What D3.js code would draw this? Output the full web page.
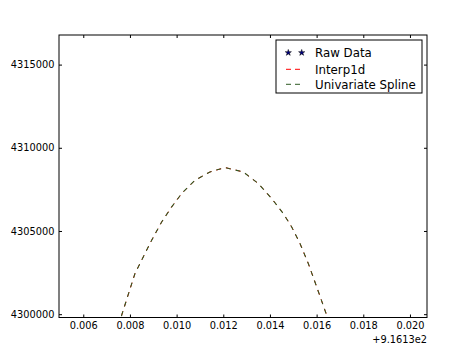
<!DOCTYPE html>
<html>
<head>
<meta charset="utf-8">
<script src="https://cdn.jsdelivr.net/npm/d3@7"></script>
<style>
  body { margin: 0; background: #fff; }
  svg { display: block; }
  text { font-family: "DejaVu Sans", sans-serif; fill: #000; }
</style>
</head>
<body>
<div id="chart"></div>
<script>
// Interpolation comparison, zoomed in on the peak
// x values are offsets from 916.13 (matplotlib offset text +9.1613e2)

const curveX = [0.00755, 0.007646, 0.008216, 0.008571, 0.008931, 0.00936, 0.009788,
  0.010217, 0.010787, 0.01143, 0.012073, 0.012857, 0.0135, 0.014074, 0.014571,
  0.014931, 0.015287, 0.015643, 0.016003, 0.016431, 0.01655];
const interpY = [4299300, 4299940, 4302445, 4303442, 4304445, 4305545, 4306446,
  4307251, 4308050, 4308548, 4308813, 4308548, 4307852, 4306950, 4306049,
  4305245, 4304247, 4303046, 4301640, 4299940, 4299300];
const splineY = [4299300, 4299940, 4302445, 4303442, 4304445, 4305545, 4306446,
  4307251, 4308050, 4308548, 4308813, 4308548, 4307852, 4306950, 4306049,
  4305245, 4304247, 4303046, 4301640, 4299940, 4299300];

const xTicks = [0.006, 0.008, 0.010, 0.012, 0.014, 0.016, 0.018, 0.020];
const yTicks = [4300000, 4305000, 4310000, 4315000];
const seriesNames = ["Raw Data", "Interp1d", "Univariate Spline"];

const width = 474, height = 353;
const axL = 59, axR = 427, axT = 35, axB = 317.5;

const svg = d3.select("#chart").append("svg")
  .attr("width", width)
  .attr("height", height);

const x = d3.scaleLinear().domain([0.00496, 0.02073]).range([axL, axR]);
const y = d3.scaleLinear().domain([4299800, 4316779]).range([axB, axT]);

svg.append("defs").append("clipPath")
  .attr("id", "clip")
  .append("rect")
  .attr("x", axL).attr("y", axT)
  .attr("width", axR - axL).attr("height", axB - axT);

// curves: red interp1d below, green spline on top
const line = d3.line().x(d => x(d[0])).y(d => y(d[1]));
const plotG = svg.append("g").attr("clip-path", "url(#clip)");

plotG.append("path")
  .datum(curveX.map((v, i) => [v, interpY[i]]))
  .attr("d", line)
  .attr("fill", "none")
  .attr("stroke", "#ff0000")
  .attr("stroke-width", 1)
  .attr("stroke-dasharray", "5,5");

plotG.append("path")
  .datum(curveX.map((v, i) => [v, splineY[i]]))
  .attr("d", line)
  .attr("fill", "none")
  .attr("stroke", "#2f5a24")
  .attr("stroke-width", 1.1)
  .attr("stroke-dasharray", "5,5");

// axes: ticks point inward on all four sides (classic style)
const tickLen = 3;
svg.append("g")
  .attr("transform", `translate(0,${axB})`)
  .call(d3.axisBottom(x).tickValues(xTicks).tickSize(-tickLen).tickPadding(5)
    .tickFormat(d3.format(".3f")))
  .call(g => g.select(".domain").remove())
  .call(g => g.selectAll("text").style("font-size", "9.8px").style("font-family", "DejaVu Sans"));

svg.append("g")
  .attr("transform", `translate(0,${axT})`)
  .call(d3.axisTop(x).tickValues(xTicks).tickSize(-tickLen).tickFormat(""))
  .call(g => g.select(".domain").remove());

svg.append("g")
  .attr("transform", `translate(${axL},0)`)
  .call(d3.axisLeft(y).tickValues(yTicks).tickSize(-tickLen).tickPadding(4.5)
    .tickFormat(d3.format("d")))
  .call(g => g.select(".domain").remove())
  .call(g => g.selectAll("text").style("font-size", "9.8px").style("font-family", "DejaVu Sans"));

svg.append("g")
  .attr("transform", `translate(${axR},0)`)
  .call(d3.axisRight(y).tickValues(yTicks).tickSize(-tickLen).tickFormat(""))
  .call(g => g.select(".domain").remove());

svg.append("rect")
  .attr("x", axL).attr("y", axT)
  .attr("width", axR - axL).attr("height", axB - axT)
  .attr("fill", "none")
  .attr("stroke", "#000")
  .attr("stroke-width", 1);

// offset text
svg.append("text")
  .attr("x", axR)
  .attr("y", 343)
  .attr("text-anchor", "end")
  .style("font-size", "9.8px")
  .text("+9.1613e2");

// legend
const legendG = svg.append("g").attr("transform", "translate(276,40)");
legendG.append("rect")
  .attr("x", 0).attr("y", 0)
  .attr("width", 146).attr("height", 53)
  .attr("fill", "#fff")
  .attr("stroke", "#000")
  .attr("stroke-width", 1);

const rowY = [12.7, 29.3, 44.3];
const star = d3.symbol().type(d3.symbolStar).size(12);
[12.3, 25.7].forEach(sx => {
  legendG.append("path")
    .attr("d", star)
    .attr("transform", `translate(${sx},${rowY[0]})`)
    .attr("fill", "#000080")
    .attr("stroke", "#000")
    .attr("stroke-width", 0.5);
});
[["#ff0000", rowY[1]], ["#2f5a24", rowY[2]]].forEach(([c, ly]) => {
  legendG.append("line")
    .attr("x1", 10).attr("x2", 25)
    .attr("y1", ly).attr("y2", ly)
    .attr("stroke", c)
    .attr("stroke-width", 1)
    .attr("stroke-dasharray", "5,4");
});
seriesNames.forEach((name, i) => {
  legendG.append("text")
    .attr("x", 39)
    .attr("y", rowY[i])
    .attr("dy", "0.36em")
    .style("font-size", "11.8px")
    .text(name);
});
</script>
</body>
</html>
